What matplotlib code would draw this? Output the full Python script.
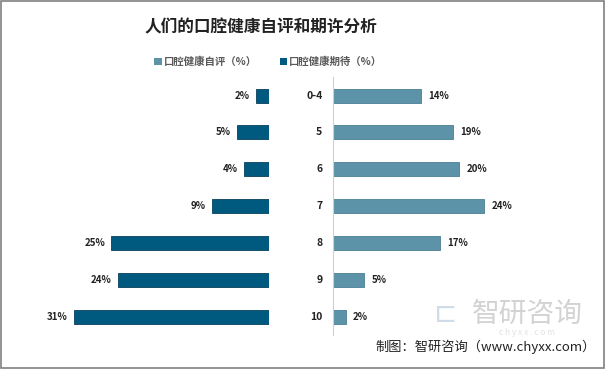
import matplotlib.pyplot as plt
from matplotlib.patches import Patch, Rectangle

plt.rcParams['font.family'] = ['Noto Sans CJK SC', 'DejaVu Sans']

categories = ['0-4', '5', '6', '7', '8', '9', '10']
self_rating = [14, 19, 20, 24, 17, 5, 2]      # 口腔健康自评（%）
expectation = [2, 5, 4, 9, 25, 24, 31]        # 口腔健康期待（%）

c_self = '#5C93A9'
c_expect = '#005A80'

fig = plt.figure(figsize=(6.06, 3.69), dpi=100)

# left axes (expectation, pointing left), right axes (self rating)
ax_l = fig.add_axes([0.1007, 0.092, 0.3432, 0.699])
ax_r = fig.add_axes([0.5495, 0.092, 0.4158, 0.699])

y = list(range(len(categories)))

ax_l.barh(y, expectation, height=0.38, color=c_expect, edgecolor='#0B3F5A', linewidth=0.6)
ax_l.set_xlim(33, 0)
ax_r.barh(y, self_rating, height=0.38, color=c_self, edgecolor='#4A7F95', linewidth=0.6)
ax_r.set_xlim(0, 40)

for ax in (ax_l, ax_r):
    ax.set_ylim(len(categories) - 0.5, -0.5)
    ax.set_xticks([])
    ax.set_yticks([])
    for s in ax.spines.values():
        s.set_visible(False)
    ax.patch.set_alpha(0)

ax_r.spines['left'].set_visible(True)
ax_r.spines['left'].set_color('#D0D0D0')
ax_r.spines['left'].set_linewidth(0.8)

for yi, v in zip(y, expectation):
    ax_l.text(v + 1.0, yi, f'{v}%', ha='right', va='center', fontsize=7, fontweight='bold', color='#222222')
for yi, v in zip(y, self_rating):
    ax_r.text(v + 1.2, yi, f'{v}%', ha='left', va='center', fontsize=7, fontweight='bold', color='#222222')
for yi, c in zip(y, categories):
    ax_r.text(-1.7, yi, c, ha='right', va='center', fontsize=7.5, fontweight='bold', color='#222222')

fig.text(0.431, 0.925, '人们的口腔健康自评和期许分析', ha='center', va='center',
         fontsize=12, fontweight='bold', color='#222222')

handles = [Patch(facecolor=c_self, label='口腔健康自评（%）'),
           Patch(facecolor=c_expect, label='口腔健康期待（%）')]
leg = fig.legend(handles=handles, loc='center', bbox_to_anchor=(0.443, 0.832), ncol=2,
                 frameon=False, fontsize=7.5, handlelength=0.7, handleheight=0.7,
                 handletextpad=0.2, columnspacing=2.2)
for t in leg.get_texts():
    t.set_color('#595959')
    t.set_fontweight('bold')

# watermark
fig.text(0.733, 0.148, '⊏', fontsize=20, color='#C5D3E3', ha='center', va='center', alpha=0.8)
fig.text(0.87, 0.148, '智研咨询', fontsize=20, color='#C8C8C8', ha='center', va='center', alpha=0.8)
fig.text(0.87, 0.098, 'c h y x x . c o m', fontsize=6, color='#E2E2E2', ha='center', va='center')

fig.text(0.983, 0.06, '制图：智研咨询（www.chyxx.com）', ha='right', va='center',
         fontsize=9.5, color='#222222')

fig.add_artist(Rectangle((0.002, 0.003), 0.995, 0.993, transform=fig.transFigure,
                         fill=False, edgecolor='#808080', linewidth=1.2))

fig.savefig('out.png', dpi=100)
